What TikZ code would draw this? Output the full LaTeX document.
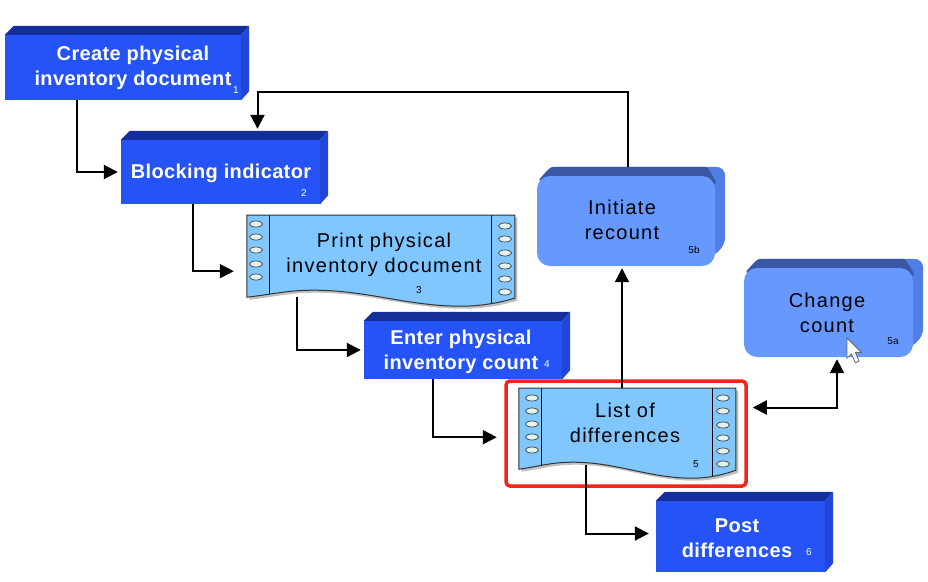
\documentclass[tikz,border=0pt]{standalone}
\usepackage{fontspec}
\setmainfont{Liberation Sans}
\usetikzlibrary{arrows.meta,backgrounds}

\definecolor{solidfront}{HTML}{2553F5}
\definecolor{solidtop}{HTML}{142F9A}
\definecolor{solidside}{HTML}{2245DC}
\definecolor{softfront}{HTML}{6699FF}
\definecolor{softtop}{HTML}{3B56A3}
\definecolor{softside}{HTML}{4F7FE6}
\definecolor{paperfill}{HTML}{80C6FF}
\definecolor{holefill}{HTML}{E2F4EE}
\definecolor{marker}{HTML}{F5231C}

% top and right faces of a square box
\newcommand{\solidfaces}[1]{
  \begin{scope}[on background layer]
    \fill[solidtop] (#1.north west) -- ++(9,-9) -- ([shift={(8pt,9pt)}]#1.north east) -- (#1.north east) -- cycle;
    \fill[solidside] (#1.north east) -- ++(8,-9) -- ([shift={(8pt,9pt)}]#1.south east) -- (#1.south east) -- cycle;
  \end{scope}
}
% same for a box with round corners
\newcommand{\softfaces}[1]{
  \begin{scope}[on background layer]
    \fill[softside,rounded corners=9pt] ([xshift=-16pt]#1.south east) -- ([shift={(10pt,20pt)}]#1.south east) -- ([shift={(10pt,9pt)}]#1.north east) -- ([shift={(14pt,9pt)}]#1.north west) -- ([shift={(1pt,-5pt)}]#1.north west) -- cycle;
    \fill[softtop,rounded corners=3pt] ([shift={(1pt,-5pt)}]#1.north west) -- ([shift={(14pt,9pt)}]#1.north west) -- ([shift={(-8pt,9pt)}]#1.north east) -- ([shift={(2pt,-8pt)}]#1.north east) -- cycle;
  \end{scope}
}
% outline of the paper, name / width / height
\newcommand{\paperline}[2]{(0,#2) -- (1,#2) -- (1,8) .. controls (.95,4) and (.88,0) .. (.8,0) .. controls (.6,0) and (.45,16) .. (.25,16) .. controls (.15,16) and (.1,12) .. (0,9) -- cycle}
\newcommand{\paper}[3]{
  \begin{scope}[on background layer,shift={(#1.south west)},x=#2pt,y=1pt]
    \fill[black!25,xshift=2.5pt,yshift=-2.5pt] \paperline{#2}{#3};
    \fill[paperfill] \paperline{#2}{#3};
    \begin{scope}
      \clip \paperline{#2}{#3};
      \draw[line width=1pt] ({23/#2},0) -- ({23/#2},#3);
      \draw[line width=1pt] ({1-23/#2},0) -- ({1-23/#2},#3);
    \end{scope}
    \draw[line width=1pt,black!80] \paperline{#2}{#3};
  \end{scope}
}

\tikzset{
  solid/.style = {fill=solidfront, inner sep=0pt},
  soft/.style = {fill=softfront, inner sep=0pt, rounded corners=13pt},
  page/.style = {inner sep=0pt},
  whitetext/.style = {text=white, align=center, font=\fontsize{20}{25}\selectfont\bfseries\addfontfeature{LetterSpace=1.8}, inner sep=0pt},
  blacktext/.style = {text=black, align=center, font=\fontsize{20}{25}\selectfont\addfontfeature{LetterSpace=6.4}, inner sep=0pt},
  num/.style = {font=\fontsize{10}{10}\selectfont, inner sep=0pt},
  flow/.style = {draw, line width=2pt, -{Triangle[length=14pt,width=14pt]}},
  flowboth/.style = {draw, line width=2pt, {Triangle[length=14pt,width=14pt]}-{Triangle[length=14pt,width=14pt]}},
  hole/.style = {draw=black!75, fill=holefill, line width=.7pt}
}

\begin{document}
\begin{tikzpicture}[x=1pt,y=-1pt]
        \useasboundingbox (0,0) rectangle (928,581);

        \node[solid, minimum width=236pt, minimum height=65pt] (create) at (123,67.5) {};
        \node[solid, minimum width=199pt, minimum height=64pt] (blocking) at (220.5,172) {};
        \node[page, minimum width=268pt, minimum height=91pt] (print) at (381,260.5) {};
        \node[solid, minimum width=198pt, minimum height=58pt] (enter) at (463,350) {};
        \node[page, minimum width=217pt, minimum height=90pt] (list) at (627.5,433) {};
        \node[solid, minimum width=169pt, minimum height=71pt] (post) at (740.5,536.5) {};
        \node[soft, minimum width=178pt, minimum height=90pt] (initiate) at (626,221) {};
        \node[soft, minimum width=169pt, minimum height=89pt] (change) at (828.5,312.5) {};

        \solidfaces{create}
        \solidfaces{blocking}
        \solidfaces{enter}
        \solidfaces{post}
        \softfaces{initiate}
        \softfaces{change}
        \paper{print}{268}{91}
        \paper{list}{217}{90}

        % holes along the paper edges
        \foreach \y in {224,237,250,264,277} \draw[hole] (256,\y) ellipse (6.5pt and 3pt);
        \foreach \y in {226,239,253,266,279,292} \draw[hole] (505,\y) ellipse (6.5pt and 3pt);
        \foreach \y in {398,411,424,437,450} \draw[hole] (532,\y) ellipse (6.5pt and 3pt);
        \foreach \y in {398,411,425,438,451,464} \draw[hole] (723,\y) ellipse (6.5pt and 3pt);

        \node[whitetext] (createtext) at (133,68) {Create physical\\inventory document};
        \node[whitetext] (blockingtext) at (221,173) {Blocking indicator};
        \node[blacktext] (printtext) at (384,255) {Print physical\\inventory document};
        \node[whitetext] (entertext) at (461,352) {Enter physical\\inventory count};
        \node[blacktext] (listtext) at (625,423) {List of\\differences};
        \node[whitetext] (posttext) at (737,538) {Post\\differences};
        \node[blacktext] (initiatetext) at (622,220) {Initiate\\recount};
        \node[blacktext] (changetext) at (827,313) {Change\\count};

        \node[num, text=white] (n1) at (236,90) {1};
        \node[num, text=white] (n2) at (304,193) {2};
        \node[num] (n3) at (419,290) {3};
        \node[num, text=white] (n4) at (547,364) {4};
        \node[num] (n5) at (696,464) {5};
        \node[num, text=white] (n6) at (809,552) {6};
        \node[num] (n5b) at (694,250) {5b};
        \node[num] (n5a) at (893,341) {5a};

        \node[draw=marker, line width=3.5pt, rounded corners=4pt, inner sep=0pt, minimum width=240pt, minimum height=105pt] (mark) at (626,433.5) {};

        \draw[flow, shorten >=3pt] ([xshift=72pt]create.south west) |- (blocking.west);
        \draw[flow] ([xshift=72pt]blocking.south west) |- ([xshift=-13pt,yshift=35pt]print.south west);
        \draw[flow, shorten >=3pt] ([xshift=50pt,yshift=9pt]print.south west) |- (enter.west);
        \draw[flow] ([xshift=69pt]enter.south west) |- ([xshift=-22pt,yshift=41pt]list.south west);
        \draw[flow] ([xshift=67pt,yshift=13pt]list.south west) |- ([xshift=-7pt,yshift=3pt]post.west);
        \draw[flow, shorten >=2pt] ([xshift=-5.5pt]list.north) -- ([xshift=-4pt]initiate.south);
        \draw[flow] (initiate.north) ++(2,-9) -- ++(0,-75) -| ([xshift=37pt,yshift=11pt]blocking.north);
        \draw[flowboth] ([xshift=5pt]mark.east) ++(0,-26) -| ([xshift=8.5pt,yshift=-2pt]change.south);

        % mouse pointer
        \draw[black!60, fill=white, line width=.8pt] (847,338) -- (847,358) -- (851.5,354) -- (855.5,363) -- (859,361) -- (855.5,352.5) -- (861.5,352.5) -- cycle;
\end{tikzpicture}
\end{document}
